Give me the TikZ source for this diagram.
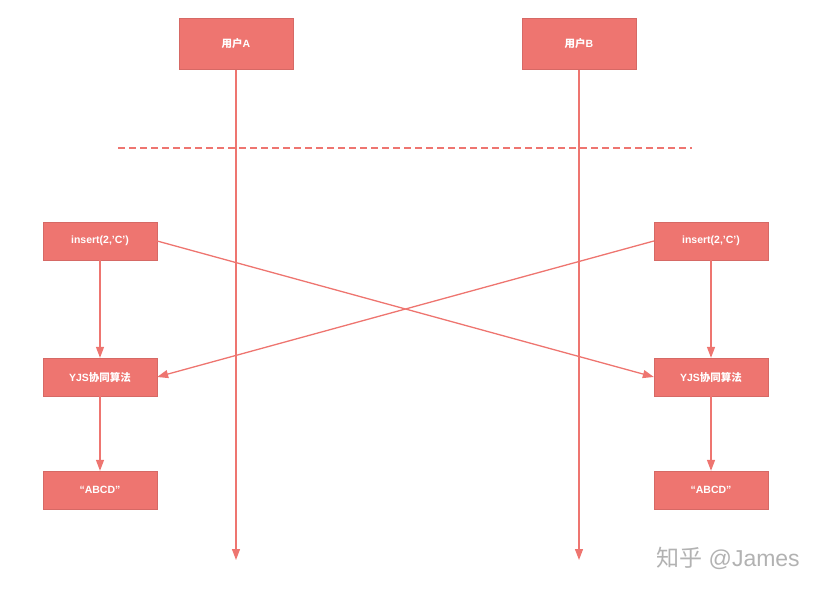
\documentclass[tikz,border=0pt]{standalone}
\usepackage{fontspec}
\setmainfont{Liberation Sans}
\newfontfamily\cjk{Noto Sans CJK SC}
\usetikzlibrary{arrows.meta}
\definecolor{boxc}{HTML}{EE7570}
\begin{document}
\begin{tikzpicture}[x=1pt,y=-1pt,
  bx/.style={fill=boxc,draw=boxc!90!black,line width=0.3pt,text=white,minimum width=114pt,font=\fontsize{10.5}{12}\selectfont\bfseries},
  ln/.style={draw=boxc,line width=1.3pt,-{Triangle[length=11pt,width=8pt]}}]
\useasboundingbox (0,0) rectangle (825,593);
\node[bx,minimum height=51pt] (ua) at (236,44) {{\cjk 用户}A};
\node[bx,minimum height=51pt] (ub) at (579,44) {{\cjk 用户}B};
\coordinate (ea) at (236,560);
\coordinate (eb) at (579,560);
\draw[ln] (ua.south) -- (ea);
\draw[ln] (ub.south) -- (eb);
\coordinate (d1) at (118,148); \coordinate (d2) at (692,148);
\draw[boxc,line width=1.5pt,dash pattern=on 7pt off 4pt] (d1) -- (d2);
\node[bx,minimum height=38pt] (l1) at (100,241) {insert(2,'C')};
\node[bx,minimum height=38pt] (l2) at (100,377) {YJS{\cjk 协同算法}};
\node[bx,minimum height=38pt] (l3) at (100,490) {“ABCD”};
\node[bx,minimum height=38pt] (r1) at (711,241) {insert(2,'C')};
\node[bx,minimum height=38pt] (r2) at (711,377) {YJS{\cjk 协同算法}};
\node[bx,minimum height=38pt] (r3) at (711,490) {“ABCD”};
\draw[ln] (l1) -- (l2); \draw[ln] (l2) -- (l3);
\draw[ln] (r1) -- (r2); \draw[ln] (r2) -- (r3);
\draw[ln] (l1.east) -- (r2.west);
\draw[ln] (r1.west) -- (l2.east);
\node[text=black!30,font=\fontsize{23}{25}\selectfont] (wm) at (728,558) {{\cjk 知乎} @James};
\end{tikzpicture}
\end{document}
